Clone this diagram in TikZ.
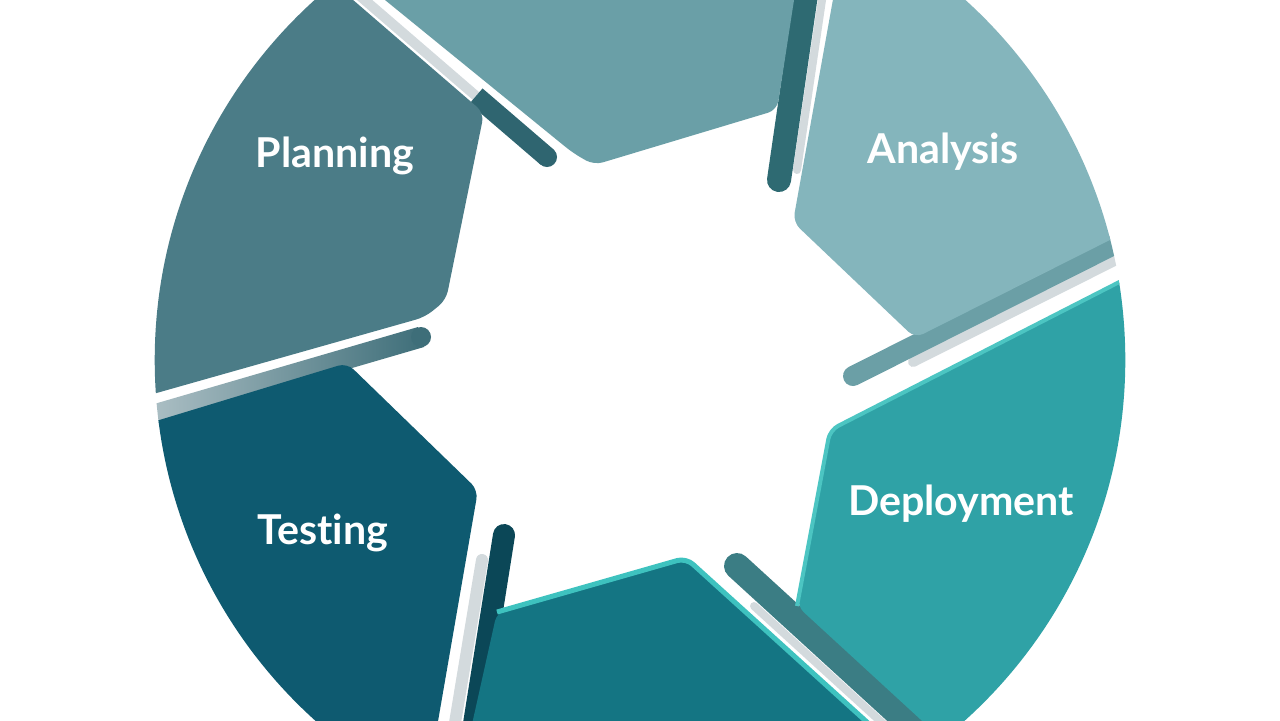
\documentclass[tikz,border=0pt]{standalone}
\usepackage{fontspec}
\setmainfont{Lato}[Ligatures=NoCommon]
\definecolor{topc}{HTML}{6A9FA7}
\definecolor{anac}{HTML}{84B5BC}
\definecolor{planc}{HTML}{4B7C87}
\definecolor{testc}{HTML}{0E5A70}
\definecolor{botc}{HTML}{147583}
\definecolor{depc}{HTML}{2FA2A6}
\definecolor{tabone}{HTML}{2F6570}
\definecolor{tabtwo}{HTML}{2E6A72}
\definecolor{tabthree}{HTML}{6B9FA6}
\definecolor{tabfour}{HTML}{3B7D84}
\definecolor{tabfive}{HTML}{0B4757}
\definecolor{tabsix}{HTML}{3E6E79}
\definecolor{tabsixL}{HTML}{B4C5CA}
\definecolor{bevelc}{HTML}{D3DADD}
\definecolor{depb}{HTML}{4CC5C2}
\definecolor{botb}{HTML}{3EC2BF}
\begin{document}
\begin{tikzpicture}[x=0.01cm,y=-0.01cm,
  seg/.style={rounded corners=2.6pt},
  tabline/.style={line width=0.2cm, line cap=round},
  bevel/.style={line width=0.08cm, color=bevelc, line cap=round},
  lbl/.style={text=white, font=\fontsize{11.7}{14}\selectfont\bfseries, anchor=base, inner sep=0pt}]
\useasboundingbox (0,0) rectangle (1280,720);
\fill[white] (0,0) rectangle (1280,720);
\begin{scope}
\clip (640,360) circle [radius=4.85cm];
% tab end points
\coordinate (t1a) at (547,157); \coordinate (t1m) at (476,96); \coordinate (t1b) at (244,-104);
\coordinate (t2a) at (779,180); \coordinate (t2b) at (828,-157);
\coordinate (t3a) at (853,376); \coordinate (t3b) at (1255,174);
\coordinate (t4a) at (737,566); \coordinate (t4b) at (958,768);
\coordinate (t5a) at (504,535); \coordinate (t5b) at (449,881);
\coordinate (t6a) at (421,337);
% bevel strips
\coordinate (b2a) at (797,170); \coordinate (b2b) at (833,-75);
\coordinate (b3a) at (913,362); \coordinate (b3b) at (1262,187);
\coordinate (b4a) at (754,606); \coordinate (b4b) at (946,781);
\coordinate (b5a) at (482,560); \coordinate (b5b) at (449,759);
\draw[bevel, line width=0.1cm, line cap=butt] (t1m) -- (t1b);
\draw[bevel] (b2a) -- (b2b);
\draw[bevel, line width=0.1cm] (b3a) -- (b3b);
\draw[bevel] (b4a) -- (b4b);
\draw[bevel, line width=0.12cm] (b5a) -- (b5b);
% tabs
\draw[tabline, line cap=butt, color=tabone] (t1a) -- (t1m);
\fill[tabone] (t1a) circle [radius=0.1cm];
\draw[tabline, line width=0.24cm, color=tabtwo] (t2a) -- (t2b);
\draw[tabline, color=tabthree] (t3a) -- (t3b);
\draw[tabline, line width=0.26cm, color=tabfour] (t4a) -- (t4b);
\draw[tabline, line width=0.22cm, color=tabfive] (t5a) -- (t5b);
\shade[left color=tabsixL, right color=tabsix] (130,411) -- (418,327) -- (424,347) -- (136,431) -- cycle;
\fill[tabsix] (t6a) circle [radius=0.1cm];
% segments
\fill[planc, seg] (100,409) -- (425,317) -- (446,300) -- (484,113) -- (191,-140) -- (100,-140) -- cycle;
\fill[topc, seg] (213,-140) -- (573,153) -- (594,165) -- (777,110) -- (794,0) -- (816,-140) -- cycle;
\fill[anac, seg] (858,-140) -- (793,222) -- (915,338) -- (1255,167) -- (1255,-140) -- cycle;
\fill[depc, seg] (1260,210) -- (830,430) -- (797,606) -- (981,775) -- (1260,780) -- cycle;
\fill[botc, seg] (986,850) -- (986,830) -- (686,558) -- (497,612) -- (444,850) -- cycle;
\fill[testc, seg] (100,438) -- (347,363) -- (478,490) -- (414,860) -- (100,860) -- cycle;
% light edges
\draw[depb, line width=0.04cm, seg] (1260,210) -- (830,430) -- (797,606);
\draw[botb, line width=0.05cm, seg] (986,830) -- (686,558) -- (497,612);
\end{scope}
% labels
\node[lbl] (planning) at (335,167) {Planning};
\node[lbl] (analysis) at (943,163) {Analysis};
\node[lbl] (deployment) at (961,515) {Deployment};
\node[lbl] (testing) at (323,544) {Testing};
\end{tikzpicture}
\end{document}
